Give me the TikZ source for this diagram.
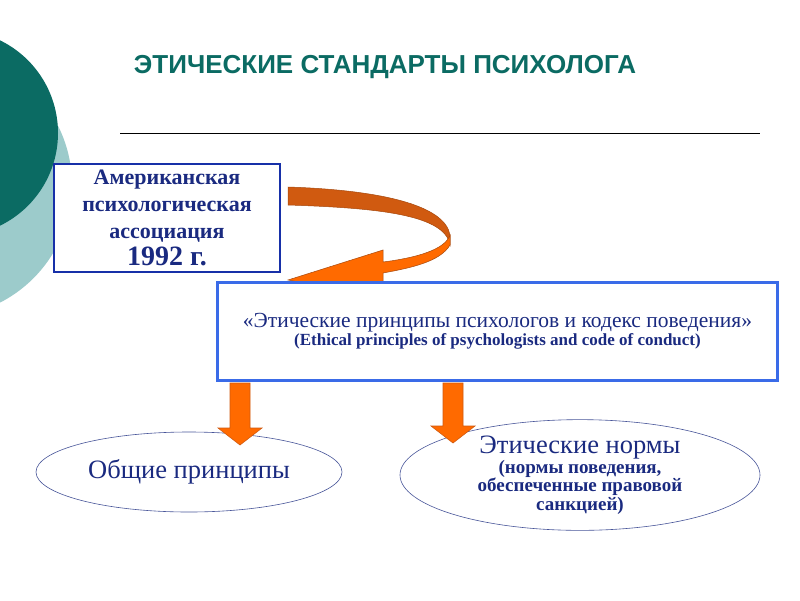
\documentclass[tikz,border=0pt]{standalone}
\usepackage{fontspec}
\usetikzlibrary{shapes.geometric}
\setmainfont{Liberation Serif}
\newfontfamily\arial{Liberation Sans}
\definecolor{teal1}{HTML}{0B6B63}
\definecolor{teal2}{HTML}{9CCBCB}
\definecolor{tblue}{HTML}{1A2A80}
\definecolor{bblue}{HTML}{1730A8}
\definecolor{lblue}{HTML}{3A6BE8}
\definecolor{orng}{HTML}{FF6A00}
\definecolor{dorng}{HTML}{D05A10}
\begin{document}
\begin{tikzpicture}[x=1pt,y=-1pt,
  downarr/.style={fill=orng,draw=dorng,line width=0.6pt},
  ell/.style={draw=tblue!80,line width=0.6pt,ellipse}]
\useasboundingbox (0,0) rectangle (800,600);
\fill[white] (0,0) rectangle (800,600);
\begin{scope}
\clip (0,0) rectangle (800,600);
\fill[teal2] (-60,185) circle (132);
\fill[teal1] (-45,133) circle (103);
\end{scope}
\node[font=\arial\bfseries\fontsize{26}{30}\selectfont,text=teal1] (title) at (385,67) {ЭТИЧЕСКИЕ СТАНДАРТЫ ПСИХОЛОГА};
\draw[line width=0.7pt] (120,133) -- (760,133);
% curved arrow
\path[fill=dorng,draw=dorng!80!black,line width=0.5pt] (288,187) .. controls (380,190) and (445,205) .. (450,235) -- (450,245) .. controls (445,215) and (380,208) .. (288,205) -- cycle;
\path[fill=orng,draw=dorng!80!black,line width=0.5pt] (450,235) -- (450,245) .. controls (440,262) and (410,268) .. (383,273) -- (383,298) -- (288,280) -- (383,250) -- (383,262) .. controls (415,258) and (445,250) .. (450,235) -- cycle;
\node[draw=bblue,line width=2.5pt,fill=white,minimum width=226pt,minimum height=108pt,align=center,text=tblue,inner sep=0pt,font=\bfseries\fontsize{22}{27}\selectfont] (apa) at (167,218) {Американская\\психологическая\\ ассоциация\\{\fontsize{28}{30}\selectfont 1992 г.}};
\node[draw=lblue,line width=3pt,fill=white,minimum width=560pt,minimum height=98pt,align=center,text=tblue] (code) at (497.5,331.5) {{\fontsize{21.5}{22}\selectfont «Этические принципы психологов и кодекс поведения»}\\{\bfseries\fontsize{17}{22}\selectfont (Ethical principles of psychologists and code of conduct)}};
\node[ell,minimum width=306pt,minimum height=80pt,text=tblue,font=\fontsize{26.5}{30}\selectfont] (gen) at (189,472) {Общие принципы};
\node[ell,minimum width=360pt,minimum height=110pt,align=center,text=tblue,inner sep=0pt] (norm) at (580,475) {{\fontsize{26.5}{25}\selectfont Этические нормы}\\{\bfseries\fontsize{19}{25}\selectfont (нормы поведения,}\\{\bfseries\fontsize{19}{25}\selectfont обеспеченные правовой}\\{\bfseries\fontsize{19}{25}\selectfont санкцией)}};
\draw[downarr] (230,383) -- (250,383) -- (250,428) -- (262,428) -- (240,445) -- (218,428) -- (230,428) -- cycle;
\draw[downarr] (443,383) -- (463,383) -- (463,426) -- (475,426) -- (453,443) -- (431,426) -- (443,426) -- cycle;
\end{tikzpicture}
\end{document}
